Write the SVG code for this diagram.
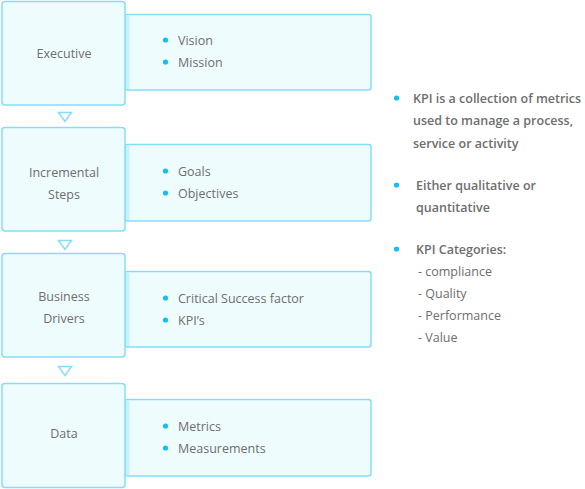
<svg xmlns="http://www.w3.org/2000/svg" width="585" height="489" viewBox="0 0 585 489">
<style>
.box{fill:#effcfe;stroke:#84def8;stroke-width:1.5}
.stripe{fill:#c9f1fc}
.lbl{font-family:"Open Sans","Noto Sans",sans-serif;font-size:12.5px;fill:#6e6e6e}
.c{text-anchor:middle}
.side{font-family:"Open Sans","Noto Sans",sans-serif;font-size:12.5px;fill:#6e6e6e;font-weight:600}
.sub{font-family:"Open Sans","Noto Sans",sans-serif;font-size:12.5px;fill:#6e6e6e}
.dot{fill:#12bff5}
.tri{fill:#ffffff;stroke:#84def8;stroke-width:1.5}
</style>
<rect width="585" height="489" fill="#ffffff"/>
<g id="connectors">
<path class="tri" d="M58.5,112.5 L71.5,112.5 L65,121.5 Z"/>
<path class="tri" d="M58.5,240.5 L71.5,240.5 L65,249.5 Z"/>
<path class="tri" d="M58.5,366.5 L71.5,366.5 L65,375.5 Z"/>
</g>
<g id="executive-detail">
<rect class="box" x="125" y="14.5" width="246" height="75.5" rx="2.5"/>
<rect class="stripe" x="126" y="15.5" width="3.5" height="73.5"/>
<circle class="dot" cx="165.5" cy="40" r="2.6"/>
<text class="lbl" x="178" y="45">Vision</text>
<circle class="dot" cx="165.5" cy="62" r="2.6"/>
<text class="lbl" x="178" y="67">Mission</text>
</g>
<g id="executive">
<rect class="box" x="2" y="1.5" width="123" height="103.5" rx="3"/>
<text class="lbl c" x="64" y="58">Executive</text>
</g>
<g id="incremental-detail">
<rect class="box" x="125" y="144.5" width="246" height="76.5" rx="2.5"/>
<rect class="stripe" x="126" y="145.5" width="3.5" height="74.5"/>
<circle class="dot" cx="165.5" cy="171" r="2.6"/>
<text class="lbl" x="178" y="176">Goals</text>
<circle class="dot" cx="165.5" cy="193" r="2.6"/>
<text class="lbl" x="178" y="198">Objectives</text>
</g>
<g id="incremental">
<rect class="box" x="2" y="127.5" width="123" height="103.5" rx="3"/>
<text class="lbl c" x="64" y="177">Incremental</text>
<text class="lbl c" x="64" y="199">Steps</text>
</g>
<g id="business-detail">
<rect class="box" x="125" y="271.5" width="246" height="75.5" rx="2.5"/>
<rect class="stripe" x="126" y="272.5" width="3.5" height="73.5"/>
<circle class="dot" cx="165.5" cy="298" r="2.6"/>
<text class="lbl" x="178" y="303">Critical Success factor</text>
<circle class="dot" cx="165.5" cy="320" r="2.6"/>
<text class="lbl" x="178" y="325">KPI’s</text>
</g>
<g id="business">
<rect class="box" x="2" y="253.5" width="123" height="103.5" rx="3"/>
<text class="lbl c" x="64" y="301">Business</text>
<text class="lbl c" x="64" y="323">Drivers</text>
</g>
<g id="data-detail">
<rect class="box" x="125" y="399.5" width="246" height="76.5" rx="2.5"/>
<rect class="stripe" x="126" y="400.5" width="3.5" height="74.5"/>
<circle class="dot" cx="165.5" cy="426" r="2.6"/>
<text class="lbl" x="178" y="431">Metrics</text>
<circle class="dot" cx="165.5" cy="448" r="2.6"/>
<text class="lbl" x="178" y="453">Measurements</text>
</g>
<g id="data">
<rect class="box" x="2" y="383.5" width="123" height="104" rx="3"/>
<text class="lbl c" x="64" y="438">Data</text>
</g>
<g id="notes">
<circle class="dot" cx="396.5" cy="98" r="2.6"/>
<text class="side" x="413" y="103">KPI is a collection of metrics</text>
<text class="side" x="413" y="125">used to manage a process,</text>
<text class="side" x="413" y="148">service or activity</text>
<circle class="dot" cx="396.5" cy="185" r="2.6"/>
<text class="side" x="416" y="190">Either qualitative or</text>
<text class="side" x="416" y="212">quantitative</text>
<circle class="dot" cx="396.5" cy="249" r="2.6"/>
<text class="side" x="416" y="254">KPI Categories:</text>
<text class="sub" x="418" y="276">- compliance</text>
<text class="sub" x="418" y="298">- Quality</text>
<text class="sub" x="418" y="320">- Performance</text>
<text class="sub" x="418" y="342">- Value</text>
</g>
</svg>
